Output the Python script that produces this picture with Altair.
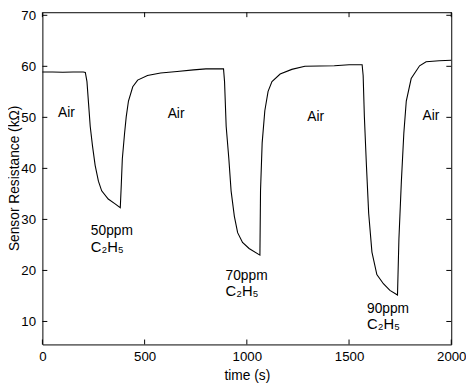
import altair as alt
import pandas as pd

# ---- data ----
time_s = [0, 50, 100, 150, 200, 210,
          218, 226, 234, 245, 258, 274, 290, 322, 354, 381,
          386, 391, 402, 410, 421, 442, 466, 514, 578, 659, 739,
          800, 886,
          891, 899, 912, 923, 939, 955, 979, 1011, 1064,
          1067, 1075, 1088, 1104, 1123, 1163, 1220, 1284, 1428,
          1500, 1564,
          1569, 1575, 1585, 1596, 1612, 1636, 1668, 1700, 1737,
          1744, 1756, 1768, 1780, 1804, 1845, 1877, 1941, 2000]
resistance = [58.9, 58.9, 58.85, 58.9, 58.9, 58.8,
              57.0, 52.6, 48.2, 44.4, 40.6, 37.5, 35.6, 34.0, 33.1, 32.3,
              36.9, 41.9, 46.9, 50.1, 53.2, 56.0, 57.3, 58.2, 58.7, 59.0, 59.3,
              59.5, 59.5,
              57.0, 48.2, 41.9, 35.6, 30.6, 27.4, 25.5, 24.3, 23.0,
              35.6, 45.0, 51.3, 55.1, 57.0, 58.5, 59.4, 60.0, 60.1,
              60.3, 60.3,
              58.2, 50.1, 40.6, 31.2, 23.6, 19.2, 17.4, 16.1, 15.2,
              26.2, 37.5, 46.9, 53.2, 57.6, 60.1, 60.9, 61.1, 61.2]

x_ticks = [0, 500, 1000, 1500, 2000]
y_ticks = [10, 20, 30, 40, 50, 60, 70]

air_x = [118, 654, 1337, 1901]
air_y = [50.8, 50.7, 50.1, 50.3]
air_text = ["Air", "Air", "Air", "Air"]

conc_text = ["50ppm", "70ppm", "90ppm"]
conc_x = [237, 896, 1588]
conc_y = [26.9, 18.2, 11.6]
gas_text = ["C\u2082H\u2085", "C\u2082H\u2085", "C\u2082H\u2085"]
gas_y = [23.7, 15.05, 8.43]

# ---- layout ----
W, H = 416, 338
FONT = "Liberation Sans"

xs = alt.Scale(domain=[0, 2000], nice=False, zero=False)
ys = alt.Scale(domain=[5.5, 70.6], nice=False, zero=False)

xaxis = alt.Axis(title="time (s)", values=x_ticks, format="d", ticks=False,
                 grid=False, domain=False, labelPadding=5, labelFontSize=13.5,
                 labelFont=FONT, labelColor="black", labelFlush=False,
                 titleFont=FONT, titleFontSize=14, titleFontWeight="normal",
                 titleColor="black", titleBaseline="alphabetic", titleY=36,
                 titleX=W / 2)
yaxis = alt.Axis(title="Sensor Resistance (k\u03a9)", values=y_ticks, format="d",
                 ticks=False, grid=False, domain=False, labelPadding=7,
                 labelFontSize=13.5, labelFont=FONT, labelColor="black",
                 labelFlush=False, titleFont=FONT, titleFontSize=14,
                 titleFontWeight="normal", titleColor="black", titleAngle=270,
                 titleAlign="center", titleBaseline="alphabetic", titleX=-24,
                 titleY=168.5)

X = lambda f: alt.X(f, type="quantitative", scale=xs, axis=xaxis)
Y = lambda f: alt.Y(f, type="quantitative", scale=ys, axis=yaxis)

curve_df = pd.DataFrame({"t": time_s, "r": resistance})
line = alt.Chart(curve_df).mark_line(color="black", strokeWidth=1.1).encode(
    x=X("t"), y=Y("r"))

air_df = pd.DataFrame({"t": air_x, "r": air_y, "label": air_text})
air = alt.Chart(air_df).mark_text(font=FONT, fontSize=14, color="black",
                                  align="center", baseline="middle").encode(
    x=X("t"), y=Y("r"), text="label:N")

conc_df = pd.DataFrame({"t": conc_x, "r": conc_y, "label": conc_text})
conc = alt.Chart(conc_df).mark_text(font=FONT, fontSize=14, color="black",
                                    align="left", baseline="alphabetic").encode(
    x=X("t"), y=Y("r"), text="label:N")

gas_df = pd.DataFrame({"t": conc_x, "r": gas_y, "label": gas_text})
gas = alt.Chart(gas_df).mark_text(font=FONT, fontSize=15, color="black",
                                  align="left", baseline="alphabetic").encode(
    x=X("t"), y=Y("r"), text="label:N")

xt_df = pd.DataFrame({"t": x_ticks})
yt_df = pd.DataFrame({"r": y_ticks})
tick_len = 5
bottom_ticks = alt.Chart(xt_df).mark_rule(color="black", strokeWidth=1).encode(
    x=X("t"), y=alt.value(H), y2=alt.value(H - tick_len))
top_ticks = alt.Chart(xt_df).mark_rule(color="black", strokeWidth=1).encode(
    x=X("t"), y=alt.value(0), y2=alt.value(tick_len))
left_ticks = alt.Chart(yt_df).mark_rule(color="black", strokeWidth=1).encode(
    y=Y("r"), x=alt.value(0), x2=alt.value(tick_len))
right_ticks = alt.Chart(yt_df).mark_rule(color="black", strokeWidth=1).encode(
    y=Y("r"), x=alt.value(W), x2=alt.value(W - tick_len))

chart = alt.layer(line, air, conc, gas, bottom_ticks, top_ticks, left_ticks,
                  right_ticks).properties(
    width=W, height=H,
    autosize=alt.AutoSizeParams(type="none"),
    padding={"left": 35, "top": 1, "right": 15, "bottom": 40},
    background="white",
).configure_view(stroke="black", strokeWidth=1)

chart.save("out.html", embed_options={"renderer": "svg", "actions": False})
